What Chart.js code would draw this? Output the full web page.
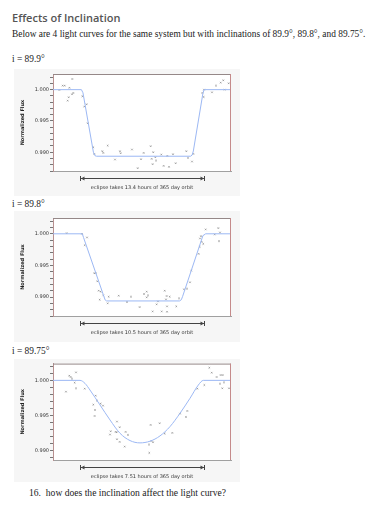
<!DOCTYPE html>
<html>
<head>
<meta charset="utf-8">
<script src="https://cdn.jsdelivr.net/npm/chart.js@4"></script>
<style>
  body { margin: 0; background: #fff; width: 390px; height: 519px; position: relative; overflow: hidden; }
  .t { position: absolute; white-space: nowrap; }
  .serif { font-family: "Liberation Serif", serif; color: #222; }
  canvas { position: absolute; left: 14px; background: #f6f6f6; }
</style>
</head>
<body>
<div class="t" style="left:12px;top:10px;font:600 11px 'Open Sans';color:#555;line-height:16px">Effects of Inclination</div>
<div class="t serif" style="left:12px;top:28px;font-size:9.4px;line-height:13px">Below are 4 light curves for the same system but with inclinations of 89.9°, 89.8°, and 89.75°.</div>
<div class="t serif" style="left:12px;top:53px;font-size:9.4px;line-height:13px">i = 89.9°</div>
<div class="t serif" style="left:12px;top:198px;font-size:9.4px;line-height:13px">i = 89.8°</div>
<div class="t serif" style="left:12px;top:345px;font-size:9.4px;line-height:13px">i = 89.75°</div>
<div class="t serif" style="left:29px;top:486px;font-size:9.6px;line-height:14px">16.&nbsp; how does the inclination affect the light curve?</div>

<canvas id="c1" width="226" height="127" style="top:69px"></canvas>
<canvas id="c2" width="226" height="131" style="top:211px"></canvas>
<canvas id="c3" width="226" height="123" style="top:359px"></canvas>

<script>
// x is time in units of half the eclipse length (eclipse runs from -1 to 1)
const obsX1 = [-1.344, -1.29, -1.257, -1.18, -1.133, -1.192, -1.209, -1.138, -1.117, -0.97, -0.938, -0.9, -0.883,
  -0.791, -0.775, -0.645, -0.629, -0.558, -0.439, -0.358, -0.347, -0.163, -0.07, -0.016, 0.027, 0.141, 0.157,
  0.183, 0.173, 0.217, 0.228, 0.314, 0.352, 0.412, 0.439, 0.504, 0.547, 0.721, 0.748, 0.813, 0.835, 0.981,
  1.003, 1.008, 1.138, 1.203, 1.279, 1.322, 1.344, 1.409];
const obsY1 = [0.99995, 1.00064, 1.00064, 1.0003, 1.0017, 0.99878, 0.99824, 0.99926, 0.99947, 0.99894, 0.99729,
  0.99766, 0.99463, 0.9908, 0.98973, 0.99016, 0.98989, 0.99106, 0.98883, 0.99016, 0.98984, 0.99043, 0.98745,
  0.98888, 0.98989, 0.99096, 0.98894, 0.99, 0.98809, 0.9892, 0.98867, 0.98963, 0.98782, 0.98941, 0.98766,
  0.98968, 0.98824, 0.99016, 0.9891, 0.98851, 0.98973, 0.99947, 0.99883, 1.0, 0.99957, 1.00064, 1.00112,
  1.00149, 1.0, 1.00101];
const fitX1 = [-1.45, -0.985, -0.96, -0.79, -0.765, -0.74, 0.79, 0.815, 0.835, 0.99, 1.01, 1.45];
const fitY1 = [1.0, 1.0, 0.9995, 0.9900, 0.98945, 0.98936, 0.98936, 0.98955, 0.9902, 0.9994, 1.0, 1.0];

const obsX2 = [-1.225, -0.976, -0.894, -0.932, -0.775, -0.753, -0.726, -0.705, -0.672, -0.629, -0.688, -0.542,
  -0.558, -0.379, -0.244, -0.179, -0.038, 0.033, 0.076, 0.098, 0.076, 0.26, 0.238, 0.173, 0.32, 0.369, 0.39,
  0.401, 0.45, 0.407, 0.407, 0.558, 0.602, 0.683, 0.732, 0.78, 0.802, 0.921, 0.938, 0.943, 0.959, 0.97,
  0.997, 1.035, 1.182, 1.241, 1.268, 1.252];
const obsY2 = [1.0001, 1.0, 0.99942, 0.9982, 0.99376, 0.99381, 0.99249, 0.991, 0.99085, 0.99026, 0.98958,
  0.99005, 0.989, 0.99021, 0.98921, 0.99005, 0.98841, 0.99048, 0.99085, 0.99026, 0.98995, 0.98931, 0.98884,
  0.98772, 0.98772, 0.991, 0.98963, 0.99016, 0.99005, 0.98852, 0.98767, 0.98852, 0.98979, 0.99122, 0.99132,
  0.99233, 0.99418, 0.99683, 0.99794, 0.99926, 0.99963, 0.99873, 0.99841, 1.00069, 0.99989, 1.0009, 1.00021,
  0.99884];
const fitX2 = [-1.45, -0.97, -0.95, -0.629, -0.6, -0.575, 0.61, 0.64, 0.661, 0.99, 1.035, 1.45];
const fitY2 = [1.0, 1.0, 0.9994, 0.99037, 0.98955, 0.98938, 0.98938, 0.98958, 0.99011, 0.9997, 1.0, 1.0];

const obsX3 = [-1.236, -1.182, -1.16, -1.138, -1.073, -1.095, -1.073, -0.932, -0.753, -0.732, -0.791, -0.672,
  -0.634, -0.764, -0.77, -0.407, -0.363, -0.509, -0.52, -0.428, -0.412, -0.266, -0.228, -0.407, -0.363,
  -0.282, 0.141, 0.287, 0.152, 0.179, 0.114, 0.119, 0.369, 0.493, 0.618, 0.737, 0.715, 0.9, 1.014, 1.095,
  1.133, 1.214, 1.279, 1.312, 1.268, 1.333, 1.306, 1.415];
const obsY3 = [0.99838, 1.00067, 1.00048, 1.00024, 1.00114, 0.99967, 0.99886, 0.99881, 0.99781, 0.9971,
  0.99652, 0.99667, 0.99638, 0.99576, 0.9949, 0.9941, 0.99329, 0.99271, 0.99224, 0.99262, 0.99257, 0.99262,
  0.99219, 0.99157, 0.99119, 0.99052, 0.99362, 0.99386, 0.99133, 0.99114, 0.99081, 0.98962, 0.99238,
  0.99248, 0.99524, 0.99562, 0.99476, 0.99881, 0.99933, 1.00181, 1.0011, 1.00048, 1.00076, 1.00076,
  0.99952, 0.99971, 0.99886, 0.99886];
const fitX3 = [-1.45, -1.008, -0.927, -0.846, -0.683, -0.52, -0.358, -0.195, -0.033, 0.13, 0.293, 0.455,
  0.618, 0.78, 0.916, 0.997, 1.45];
const fitY3 = [1.0, 1.0, 0.99957, 0.99862, 0.99648, 0.99433, 0.99243, 0.99138, 0.99105, 0.99129, 0.99205,
  0.99338, 0.99529, 0.99743, 0.99933, 1.0, 1.0];

const captions = [
  'eclipse takes 13.4 hours of 365 day orbit',
  'eclipse takes 10.5 hours of 365 day orbit',
  'eclipse takes 7.51 hours of 365 day orbit'
];

const FONT = 'DejaVu Sans';

function zip(xs, ys) {
  return xs.map((x, i) => ({ x, y: ys[i] }));
}

// white plot area, top/right frame, eclipse arrow and caption
const framePlugin = {
  id: 'frame',
  beforeDraw(chart) {
    const { ctx, chartArea: a } = chart;
    ctx.save();
    ctx.fillStyle = '#fff';
    ctx.fillRect(a.left, a.top, a.right - a.left, a.bottom - a.top);
    ctx.restore();
  },
  afterDraw(chart, args, opts) {
    const { ctx, chartArea: a } = chart;
    const xs = chart.scales.x;
    ctx.save();
    ctx.lineWidth = 1;
    ctx.strokeStyle = '#958888';
    ctx.beginPath(); ctx.moveTo(a.left, a.top + 0.5); ctx.lineTo(a.right, a.top + 0.5); ctx.stroke();
    ctx.strokeStyle = '#c48a8a';
    ctx.beginPath(); ctx.moveTo(a.right - 0.5, a.top); ctx.lineTo(a.right - 0.5, a.bottom); ctx.stroke();

    const x0 = Math.round(xs.getPixelForValue(-1)) + 0.5;
    const x1 = Math.round(xs.getPixelForValue(1)) + 0.5;
    const y = Math.round(a.bottom + opts.gap) + 0.5;
    ctx.strokeStyle = '#444';
    ctx.fillStyle = '#444';
    ctx.beginPath();
    ctx.moveTo(x0, y); ctx.lineTo(x1, y);
    ctx.moveTo(x0, y - 2.5); ctx.lineTo(x0, y + 2.5);
    ctx.moveTo(x1, y - 2.5); ctx.lineTo(x1, y + 2.5);
    ctx.stroke();
    ctx.beginPath();
    ctx.moveTo(x0 + 0.5, y); ctx.lineTo(x0 + 4, y - 2); ctx.lineTo(x0 + 4, y + 2); ctx.closePath();
    ctx.moveTo(x1 - 0.5, y); ctx.lineTo(x1 - 4, y - 2); ctx.lineTo(x1 - 4, y + 2); ctx.closePath();
    ctx.fill();

    ctx.fillStyle = '#333';
    ctx.font = `5px "${FONT}"`;
    ctx.textAlign = 'center';
    ctx.textBaseline = 'middle';
    ctx.fillText(opts.caption, (a.left + a.right) / 2, a.bottom + opts.gap + 10);
    ctx.restore();
  }
};

function lightCurve(id, obs, fit, smooth, yMin, yMax, padTop, xAxisH, caption) {
  return new Chart(document.getElementById(id), {
    type: 'scatter',
    data: {
      datasets: [
        {
          data: fit, showLine: true, borderColor: '#9cb8f4', borderWidth: 1, pointRadius: 0,
          tension: smooth ? 0.4 : 0, cubicInterpolationMode: smooth ? 'monotone' : 'default'
        },
        {
          data: obs, pointStyle: 'crossRot', pointRadius: 1.1, borderWidth: 0.6,
          borderColor: '#808080', backgroundColor: '#808080'
        }
      ]
    },
    options: {
      responsive: false,
      animation: false,
      events: [],
      layout: { padding: { top: padTop, right: 9, left: 0, bottom: 0 } },
      plugins: { legend: { display: false }, tooltip: { enabled: false }, frame: { caption, gap: 7 } },
      scales: {
        x: {
          type: 'linear', min: -1.447, max: 1.447,
          ticks: { display: false },
          grid: { display: false, drawTicks: false },
          border: { color: '#a0a0a0' },
          afterFit(s) { s.height = xAxisH; s.paddingLeft = 0; s.paddingRight = 0; }
        },
        y: {
          min: yMin, max: yMax,
          afterBuildTicks(s) {
            const t = [];
            for (let k = Math.ceil(yMin * 1000); k <= Math.floor(yMax * 1000); k++) t.push({ value: k / 1000 });
            s.ticks = t;
          },
          afterFit(s) { s.width = 39; s.paddingTop = 0; s.paddingBottom = 0; },
          ticks: {
            autoSkip: false, padding: 1, color: '#333',
            font: { family: FONT, size: 5 },
            callback: v => Math.round(v * 1000) % 5 === 0 ? v.toFixed(3) : ''
          },
          grid: { drawOnChartArea: false, tickLength: 3, color: '#777' },
          border: { color: '#b89090' },
          title: {
            display: true, text: 'Normalized Flux', color: '#222',
            font: { family: FONT, size: 5, weight: 'bold' }, padding: { top: 6, bottom: 0 }
          }
        }
      }
    },
    plugins: [framePlugin]
  });
}

lightCurve('c1', zip(obsX1, obsY1), zip(fitX1, fitY1), false, 0.987, 1.0025, 5, 25, captions[0]);
lightCurve('c2', zip(obsX2, obsY2), zip(fitX2, fitY2), false, 0.987, 1.0025, 7, 26, captions[1]);
lightCurve('c3', zip(obsX3, obsY3), zip(fitX3, fitY3), true, 0.9886, 1.0024, 4, 22, captions[2]);
</script>
</body>
</html>
